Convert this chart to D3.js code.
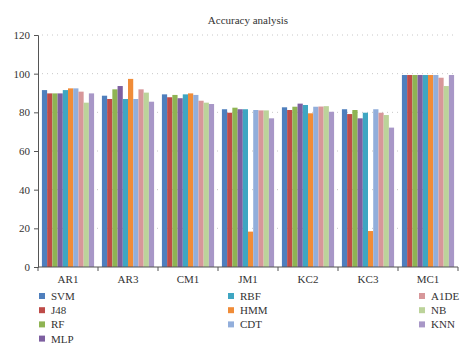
<!DOCTYPE html>
<html>
<head>
<meta charset="utf-8">
<script src="https://cdn.jsdelivr.net/npm/d3@7"></script>
<style>
  body { margin: 0; background: #fff; }
  svg text { font-family: "Liberation Serif", "DejaVu Serif", serif; fill: #333; }
</style>
</head>
<body>
<svg id="chart"></svg>
<script>
// datasets on the x axis
const datasets = ['AR1', 'AR3', 'CM1', 'JM1', 'KC2', 'KC3', 'MC1'];
// classifiers (one bar each per dataset)
const classifiers = ['SVM', 'J48', 'RF', 'MLP', 'RBF', 'HMM', 'CDT', 'A1DE', 'NB', 'KNN'];
const colors = ['#4f7fbd', '#be4b48', '#8fb453', '#7d5fa0', '#3fa6c2', '#f08c38', '#92aedb', '#d7979a', '#bcd39a', '#a897c7'];

const SVM  = [91.5, 88.6, 89.3, 81.6, 82.6, 81.6, 99.3];
const J48  = [89.8, 86.9, 87.8, 79.8, 81.2, 79.1, 99.3];
const RF   = [89.8, 91.9, 89.0, 82.4, 82.9, 81.2, 99.3];
const MLP  = [89.8, 93.6, 87.3, 81.6, 84.5, 76.9, 99.3];
const RBF  = [91.5, 86.9, 89.3, 81.6, 83.8, 79.8, 99.3];
const HMM  = [92.4, 97.3, 89.8, 18.3, 79.5, 18.6, 99.3];
const CDT  = [92.4, 86.9, 89.0, 81.2, 82.9, 81.6, 99.3];
const A1DE = [90.7, 91.9, 86.0, 81.0, 83.0, 79.8, 97.9];
const NB   = [85.0, 90.2, 85.0, 81.0, 83.2, 78.6, 93.6];
const KNN  = [89.8, 85.5, 84.3, 76.9, 80.3, 72.1, 99.3];
const seriesValues = [SVM, J48, RF, MLP, RBF, HMM, CDT, A1DE, NB, KNN];

const yTicks = [0, 20, 40, 60, 80, 100, 120];

const config = {
    containerWidth: 474,
    containerHeight: 361,
    margin: {top: 35, right: 16, bottom: 94, left: 38}
};

const width = config.containerWidth - config.margin.left - config.margin.right;
const height = config.containerHeight - config.margin.top - config.margin.bottom;

const svg = d3.select('#chart')
    .attr('width', config.containerWidth)
    .attr('height', config.containerHeight);

const chart = svg.append('g')
    .attr('transform', `translate(${config.margin.left},${config.margin.top})`);

const xScale = d3.scaleBand()
    .domain(datasets)
    .range([0, width])
    .padding(0);

const xInner = d3.scaleBand()
    .domain(classifiers)
    .range([0, xScale.bandwidth()])
    .paddingInner(0)
    .paddingOuter(0.75);

const yScale = d3.scaleLinear()
    .domain([0, 120])
    .range([height, 0]);

// dotted gridlines
chart.append('g')
    .selectAll('line')
    .data(yTicks.filter(d => d > 0))
    .join('line')
    .attr('x1', 4)
    .attr('x2', width - 4)
    .attr('y1', d => yScale(d))
    .attr('y2', d => yScale(d))
    .attr('stroke', '#c8c8c8')
    .attr('stroke-width', 1)
    .attr('stroke-dasharray', '1,4');

// bars
const table = datasets.map((ds, i) => ({
    ds: ds,
    vals: classifiers.map((c, j) => ({key: c, value: seriesValues[j][i], color: colors[j]}))
}));

chart.append('g')
    .selectAll('g')
    .data(table)
    .join('g')
    .attr('transform', d => `translate(${xScale(d.ds)},0)`)
    .selectAll('rect')
    .data(d => d.vals)
    .join('rect')
    .attr('x', d => xInner(d.key))
    .attr('width', xInner.bandwidth())
    .attr('y', d => yScale(d.value))
    .attr('height', d => height - yScale(d.value))
    .attr('fill', d => d.color);

// axes
const yAxis = d3.axisLeft(yScale)
    .tickValues(yTicks)
    .tickSize(4)
    .tickPadding(4);

const yAxisG = chart.append('g').call(yAxis);
yAxisG.select('.domain').attr('stroke', '#555');
yAxisG.selectAll('.tick line').attr('stroke', '#555');
yAxisG.selectAll('.tick text')
    .attr('font-size', '11px')
    .attr('fill', '#333')
    .style('font-family', '"Liberation Serif", serif');

const xAxisG = chart.append('g')
    .attr('transform', `translate(0,${height})`);

xAxisG.append('line')
    .attr('x1', 0).attr('x2', width)
    .attr('stroke', '#555');

xAxisG.selectAll('.xtick')
    .data(datasets.concat(['end']))
    .join('line')
    .attr('class', 'xtick')
    .attr('x1', (d, i) => i * xScale.step())
    .attr('x2', (d, i) => i * xScale.step())
    .attr('y1', 0)
    .attr('y2', 4)
    .attr('stroke', '#555');

xAxisG.selectAll('.xlabel')
    .data(datasets)
    .join('text')
    .attr('class', 'xlabel')
    .attr('x', d => xScale(d) + xScale.bandwidth() / 2)
    .attr('y', 16)
    .attr('text-anchor', 'middle')
    .attr('font-size', '11px')
    .text(d => d);

// title
svg.append('text')
    .attr('x', 248)
    .attr('y', 24)
    .attr('text-anchor', 'middle')
    .attr('font-size', '11px')
    .text('Accuracy analysis');

// legend, three columns
const legendCols = [[0, 1, 2, 3], [4, 5, 6], [7, 8, 9]];
const legendX = [39, 228, 419];
legendCols.forEach((col, ci) => {
    const g = svg.append('g')
        .attr('transform', `translate(${legendX[ci]},293)`);
    const items = g.selectAll('g')
        .data(col)
        .join('g')
        .attr('transform', (d, i) => `translate(0,${i * 14.2})`);
    items.append('rect')
        .attr('width', 6)
        .attr('height', 6)
        .attr('fill', d => colors[d]);
    items.append('text')
        .attr('x', 12)
        .attr('y', 7)
        .attr('font-size', '11px')
        .text(d => classifiers[d]);
});
</script>
</body>
</html>
